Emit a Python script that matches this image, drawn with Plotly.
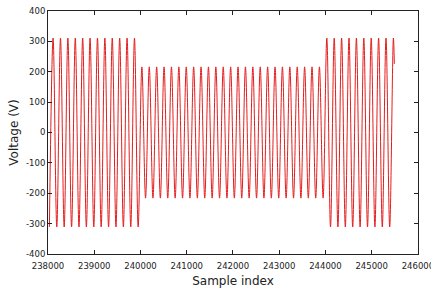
import plotly.graph_objects as go

# Extremes (peaks / troughs) of the waveform
seg1_x = [238030, 238110, 238190, 238270, 238350, 238430, 238510, 238590, 238670,
          238750, 238830, 238910, 238990, 239070, 239150, 239230, 239310, 239390,
          239470, 239550, 239630, 239710, 239790, 239870, 239950]
seg1_y = [-311, 311, -311, 311, -311, 311, -311, 311, -311, 311, -311, 311, -311,
          311, -311, 311, -311, 311, -311, 311, -311, 311, -311, 311, -311]

seg2_x = [240030, 240110, 240190, 240270, 240350, 240430, 240510, 240590, 240670,
          240750, 240830, 240910, 240990, 241070, 241150, 241230, 241310, 241390,
          241470, 241550, 241630, 241710, 241790, 241870, 241950, 242030, 242110,
          242190, 242270, 242350, 242430, 242510, 242590, 242670, 242750, 242830,
          242910, 242990, 243070, 243150, 243230, 243310, 243390, 243470, 243550,
          243630, 243710, 243790, 243870, 243950]
seg2_y = [216, -216, 216, -216, 216, -216, 216, -216, 216, -216, 216, -216, 216,
          -216, 216, -216, 216, -216, 216, -216, 216, -216, 216, -216, 216, -216,
          216, -216, 216, -216, 216, -216, 216, -216, 216, -216, 216, -216, 216,
          -216, 216, -216, 216, -216, 216, -216, 216, -216, 216, -216]

seg3_x = [244030, 244110, 244190, 244270, 244350, 244430, 244510, 244590, 244670,
          244750, 244830, 244910, 244990, 245070, 245150, 245230, 245310, 245390,
          245470, 245490]
seg3_y = [311, -311, 311, -311, 311, -311, 311, -311, 311, -311, 311, -311, 311,
          -311, 311, -311, 311, -311, 311, 226]

x_vals = seg1_x + seg2_x + seg3_x
y_vals = seg1_y + seg2_y + seg3_y

x_ticks = [238000, 239000, 240000, 241000, 242000, 243000, 244000, 245000, 246000]
y_ticks = [-400, -300, -200, -100, 0, 100, 200, 300, 400]

fig = go.Figure()
fig.add_trace(go.Scatter(
    x=x_vals, y=y_vals, mode="lines",
    line=dict(color="rgb(228,28,28)", width=1, shape="spline", smoothing=1),
    showlegend=False,
))

axis_common = dict(
    showgrid=False, zeroline=False, showline=True, linecolor="#222",
    linewidth=1, mirror="allticks", ticks="inside", ticklen=4, tickcolor="#222",
    tickfont=dict(family="DejaVu Sans", size=8.5, color="#222"),
    automargin=False, ticklabeloverflow="allow",
)

fig.update_layout(
    width=431, height=292,
    margin=dict(l=48, r=13, t=11, b=38),
    paper_bgcolor="white", plot_bgcolor="white",
    xaxis=dict(range=[238000, 246002], tickvals=x_ticks,
               ticktext=[str(v) for v in x_ticks],
               ticklabelstandoff=4,
               title=dict(text="Sample index", standoff=6,
                          font=dict(family="DejaVu Sans", size=12, color="#222")),
               **axis_common),
    yaxis=dict(range=[-400, 400], tickvals=y_ticks,
               ticktext=[str(v) for v in y_ticks],
               title=dict(text="Voltage (V)", standoff=4,
                          font=dict(family="DejaVu Sans", size=12, color="#222")),
               **axis_common),
)

fig.write_html("out.html")
